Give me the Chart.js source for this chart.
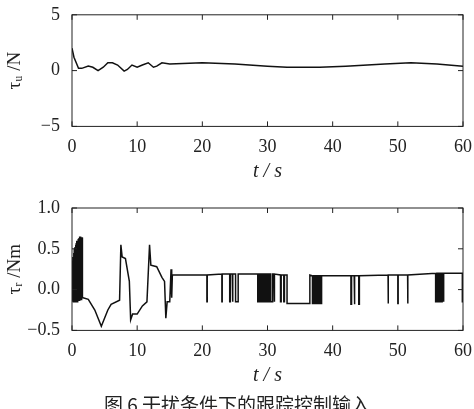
<!DOCTYPE html>
<html><head><meta charset="utf-8">
<script src="https://cdn.jsdelivr.net/npm/chart.js@4"></script>
<style>
body{margin:0;background:#fff;width:474px;height:409px;overflow:hidden;position:relative}
canvas{position:absolute;left:0}
#cap{position:absolute;left:0;width:474px;top:390px;text-align:center;font-family:"Noto Sans CJK SC";font-size:19px;color:#222}
</style></head><body>
<div style="position:absolute;top:0;left:0;width:474px;height:188px"><canvas id="c1"></canvas></div>
<div style="position:absolute;top:188px;left:0;width:474px;height:204px"><canvas id="c2"></canvas></div>
<div id="cap">图 6 干扰条件下的跟踪控制输入</div>
<script>
const xTicks = [0,10,20,30,40,50,60];
const yTicksTop = [-5,0,5];
const yTicksBottom = [-0.5,0,0.5,1.0];
const tauUTime = [0,0.3,1,1.5,2.5,3.2,4,4.8,5.5,6.2,7,8,8.5,9.2,10,10.8,11.7,12.5,13,13.8,15,20,25,30,33,38,42,48,52,56,60];
const tauUVal  = [2,1.2,0.2,0.2,0.4,0.3,0.0,0.3,0.7,0.7,0.5,-0.05,0.1,0.5,0.3,0.5,0.7,0.3,0.4,0.7,0.6,0.7,0.6,0.4,0.3,0.3,0.4,0.6,0.7,0.6,0.4];
// transient part of tau_r (0 to 15.4 s)
const tauRTime = [0,0.1,0.15,0.2,0.25,0.3,0.35,0.4,0.45,0.5,0.55,0.6,0.65,0.7,0.75,0.8,0.85,0.9,0.95,1.0,1.05,1.1,1.15,1.2,1.25,1.3,1.35,1.4,1.45,1.5,1.55,1.6,
 1.7,2.5,3.5,4.5,5.5,6,7.3,7.5,7.7,8.2,8.8,9,9.3,10,10.8,11.5,11.9,12.1,13,13.8,14.2,14.4,14.6,15,15.2,15.3,15.4];
const tauRVal  = [0.35,-0.15,0.4,-0.15,0.45,-0.15,0.5,-0.15,0.52,-0.15,0.55,-0.15,0.57,-0.15,0.6,-0.15,0.6,-0.14,0.62,-0.14,0.63,-0.13,0.65,-0.13,0.65,-0.12,0.65,-0.12,0.64,-0.12,0.64,-0.1,
 -0.1,-0.12,-0.25,-0.45,-0.25,-0.18,-0.13,0.55,0.4,0.38,0.1,-0.37,-0.3,-0.3,-0.2,-0.15,0.55,0.3,0.28,0.15,0.1,-0.35,-0.15,-0.15,0.25,-0.1,0.18];
// switching part: each drop starts and ends at these times
const dropStart = [20.7,23,24.2,24.6,25.1,28.5,28.9,29.3,29.7,30.1,30.5,31,32,32.5,33,36.9,37.3,37.7,38.1,42.8,43.3,44,48.5,50,51.5,55.8,56.2,56.6,57,59.9];
const dropEnd   = [20.75,23.05,24.3,24.7,25.5,28.7,29.1,29.5,29.9,30.3,30.8,31.1,32.1,32.6,36.5,37.1,37.5,37.9,38.3,42.9,43.4,44.1,48.55,50.05,51.55,56,56.4,56.8,57.05,60];
const highLevel = [0.18,0.19,0.19,0.19,0.19,0.19,0.19,0.19,0.19,0.19,0.19,0.19,0.18,0.18,0.18,0.17,0.17,0.17,0.17,0.17,0.17,0.17,0.18,0.18,0.18,0.2,0.2,0.2,0.2,0.2];
const lowLevel  = [-0.15,-0.15,-0.15,-0.15,-0.15,-0.15,-0.15,-0.15,-0.15,-0.15,-0.15,-0.15,-0.15,-0.15,-0.17,-0.17,-0.17,-0.17,-0.17,-0.18,-0.18,-0.18,-0.17,-0.17,-0.17,-0.15,-0.15,-0.15,-0.15,-0.15];

const rPoints = tauRTime.map((t,i)=>({x:t,y:tauRVal[i]}));
dropStart.forEach((s,i)=>{
  rPoints.push({x:s,y:highLevel[i]},{x:s,y:lowLevel[i]},{x:dropEnd[i],y:lowLevel[i]},{x:dropEnd[i],y:highLevel[i]});
});

const serif = '"Liberation Serif","DejaVu Serif",serif';
const frame = {id:'frame',afterDraw(c){
  const ctx=c.ctx,a=c.chartArea,x=c.scales.x,y=c.scales.y;
  ctx.save();ctx.strokeStyle='#222';ctx.lineWidth=1;
  ctx.strokeRect(a.left,a.top,a.right-a.left,a.bottom-a.top);
  ctx.beginPath();
  x.ticks.forEach(t=>{const p=x.getPixelForValue(t.value);ctx.moveTo(p,a.bottom);ctx.lineTo(p,a.bottom-5);ctx.moveTo(p,a.top);ctx.lineTo(p,a.top+5);});
  y.ticks.forEach(t=>{const p=y.getPixelForValue(t.value);ctx.moveTo(a.left,p);ctx.lineTo(a.left+5,p);ctx.moveTo(a.right,p);ctx.lineTo(a.right-5,p);});
  ctx.stroke();ctx.restore();
}};
function make(id,points,ymin,ymax,yt,title,topPad,fmt){
  new Chart(document.getElementById(id),{
    type:'line',
    data:{datasets:[{data:points,borderColor:'#111',borderWidth:1.5,pointRadius:0,tension:0}]},
    options:{responsive:true,maintainAspectRatio:false,animation:false,
      layout:{padding:{top:topPad,right:10,left:0,bottom:0}},
      plugins:{legend:{display:false},tooltip:{enabled:false}},
      scales:{
        x:{type:'linear',min:0,max:60,afterBuildTicks:s=>{s.ticks=xTicks.map(v=>({value:v}));},
          grid:{display:false},border:{display:false},
          ticks:{color:'#222',font:{family:serif,size:18},padding:2,maxRotation:0},
          title:{display:true,text:'t / s',color:'#222',font:{family:serif,size:20,style:'italic'},padding:{top:0}}},
        y:{min:ymin,max:ymax,afterBuildTicks:s=>{s.ticks=yt.map(v=>({value:v}));},
          afterFit:s=>{s.width=72;},
          grid:{display:false},border:{display:false},
          ticks:{color:'#222',font:{family:serif,size:18},padding:4,callback:fmt},
          title:{display:true,text:title,color:'#222',font:{family:serif,size:19}}}
      }},
    plugins:[frame]});
}
make('c1',tauUTime.map((t,i)=>({x:t,y:tauUVal[i]})),-5,5,yTicksTop,'τᵤ /N',4,v=>String(v).replace('-','−'));
make('c2',rPoints,-0.5,1.0,yTicksBottom,'τᵣ /Nm',20,v=>v.toFixed(1).replace('-','−'));
</script></body></html>
